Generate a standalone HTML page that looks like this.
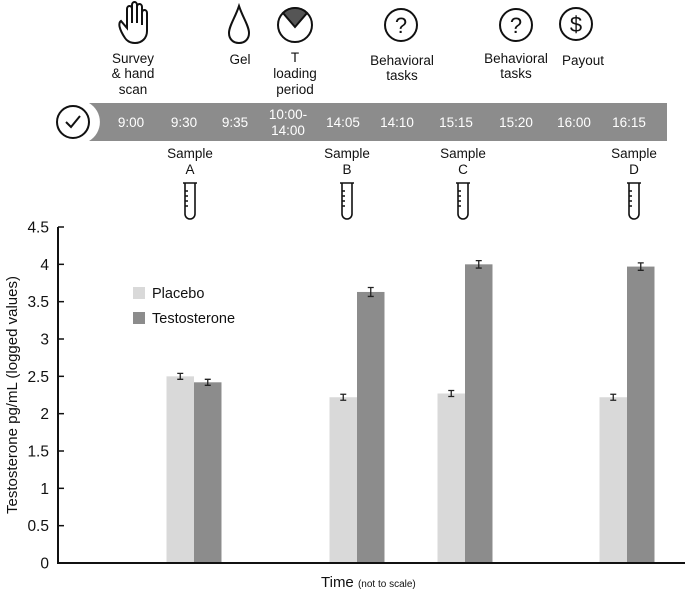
<!DOCTYPE html>
<html><head><meta charset="utf-8"><style>
body{margin:0;background:#fff;font-family:"Liberation Sans",sans-serif}
svg text{font-family:"Liberation Sans",sans-serif}
</style></head><body>
<svg width="685" height="592" viewBox="0 0 685 592">
<g>
  <path d="M89,103 L667,103 L667,141 L89,141 A22,22 0 0 0 89,103 Z" fill="#8c8c8c"/>
  <g>
    <circle cx="73" cy="122" r="16" fill="#fff" stroke="#111" stroke-width="2"/>
    <path d="M66,122 L71,127 L80,116" fill="none" stroke="#111" stroke-width="2"/>
  </g>
  <g fill="#fff" font-size="13.5" text-anchor="middle">
    <text x="131" y="127">9:00</text><text x="184" y="127">9:30</text><text x="235" y="127">9:35</text>
    <text x="288" y="119">10:00-</text><text x="288" y="135">14:00</text>
    <text x="343" y="127">14:05</text><text x="397" y="127">14:10</text><text x="456" y="127">15:15</text>
    <text x="516" y="127">15:20</text><text x="574" y="127">16:00</text><text x="629" y="127">16:15</text>
  </g>
</g>
<g fill="none" stroke="#111" stroke-width="2">
  <path d="M125,38 C119,29 118,23 121,21 L127,28 L127,9 C127,5 132,5 132,9 L132,23 L132,5 C132,1 137,1 137,5 L137,23 L137,7 C137,3 142,3 142,7 L142,25 L142,13 C142,9 147,9 147,13 L147,31 C147,38 142,43 135,43 C130,43 127,41 125,38 Z"/>
  <path d="M239,6 C235,18 229,26 229,33 C229,39 233,43 239,43 C245,43 249,39 249,33 C249,26 243,18 239,6 Z"/>
  <g><circle cx="295" cy="25" r="17"/><path d="M283,13 L295,27 L307,13 A17,17 0 0 0 283,13 Z" fill="#555"/></g>
  <g><circle cx="401" cy="25" r="16"/><text x="401" y="33" font-size="22" fill="#111" stroke="none" text-anchor="middle">?</text></g>
  <g><circle cx="516" cy="25" r="16"/><text x="516" y="33" font-size="22" fill="#111" stroke="none" text-anchor="middle">?</text></g>
  <g><circle cx="576" cy="24" r="16"/><text x="576" y="32" font-size="22" fill="#111" stroke="none" text-anchor="middle">$</text></g>
</g>
<g font-size="13.5" fill="#111" text-anchor="middle">
  <text x="133" y="63">Survey</text><text x="133" y="78">&amp; hand</text><text x="133" y="94">scan</text>
  <text x="240" y="64">Gel</text>
  <text x="295" y="62">T</text><text x="295" y="78">loading</text><text x="295" y="94">period</text>
  <text x="402" y="65">Behavioral</text><text x="402" y="80">tasks</text>
  <text x="516" y="63">Behavioral</text><text x="516" y="78">tasks</text>
  <text x="583" y="65">Payout</text>
</g>
<g font-size="13.5" fill="#111" text-anchor="middle" id="samples"></g>
<g id="chart"></g>
</svg>
<script>
const categories=["A","B","C","D"];
const placebo=[2.50,2.22,2.27,2.22];
const testosterone=[2.42,3.63,4.00,3.97];
const placeboErr=[0.04,0.04,0.04,0.04];
const testoErr=[0.04,0.06,0.05,0.05];
const yTicks=[0,0.5,1,1.5,2,2.5,3,3.5,4,4.5];
const ns="http://www.w3.org/2000/svg";
const chart=document.getElementById('chart');
const x0=58,x1=685,yb=563,yt=227,ymax=4.5;
const groupX=[194,357,465,627];
const sampleX=[190,347,463,634];
function y(v){return yb-(v/ymax)*(yb-yt);}
function mk(t,a,p){const e=document.createElementNS(ns,t);for(const k in a)e.setAttribute(k,a[k]);(p||chart).appendChild(e);return e;}
yTicks.forEach(v=>{
  const t=mk('text',{x:x0-9,y:y(v)+5.5,'font-size':'15.5','text-anchor':'end',fill:'#111'});t.textContent=v;
  
  
  const l=mk('line',{x1:x0,x2:x0+6,y1:y(v),y2:y(v),stroke:'#111','stroke-width':1.5});
  
  
});
const bw=27.5;
categories.forEach((c,i)=>{
  const cx=groupX[i];
  [[placebo,placeboErr,'#d9d9d9',cx-bw,'placebo'],[testosterone,testoErr,'#8c8c8c',cx,'testosterone']].forEach(([arr,err,col,bx,nm])=>{
    const r=mk('rect',{x:bx,y:y(arr[i]),width:bw,height:yb-y(arr[i]),fill:col});
    
    
    const mx=bx+bw/2,a=y(arr[i]+err[i]),b=y(arr[i]-err[i]);
    const e=mk('path',{d:`M${mx-3},${a}H${mx+3}M${mx},${a}V${b}M${mx-3},${b}H${mx+3}`,stroke:'#222','stroke-width':1.3,fill:'none'});
    
    
  });
  const s=document.getElementById('samples');
  const sx=sampleX[i];
  const t1=mk('text',{x:sx,y:158},s);t1.textContent='Sample';
  const t2=mk('text',{x:sx,y:174},s);t2.textContent=c;
  
  
  const tb=mk('path',{d:`M${sx-7},183H${sx+7}M${sx-5},183V214A5,5 0 0 0 ${sx+5},214V183M${sx-5},191h3M${sx-5},196h3M${sx-5},201h3M${sx-5},206h3`,stroke:'#111','stroke-width':1.6,fill:'none'},s);
  
  
});
const ax=mk('path',{d:`M${x0},${yt}V${yb}H${x1}`,stroke:'#111','stroke-width':2,fill:'none'});


const yl=mk('text',{x:0,y:0,transform:'translate(17,395) rotate(-90)','font-size':'15','text-anchor':'middle',fill:'#111'});
yl.textContent='Testosterone pg/mL (logged values)';


const xl=mk('text',{x:321,y:587,'font-size':'15',fill:'#111'});
xl.innerHTML='Time <tspan font-size="10">(not to scale)</tspan>';


[['Placebo','#d9d9d9',293],['Testosterone','#8c8c8c',318]].forEach(([n,c,yy])=>{
  const r=mk('rect',{x:133,y:yy-6,width:12,height:12,fill:c});
  
  
  const t=mk('text',{x:152,y:yy+5,'font-size':'14.5',fill:'#111'});t.textContent=n;
  
  
});
</script>
</body></html>
